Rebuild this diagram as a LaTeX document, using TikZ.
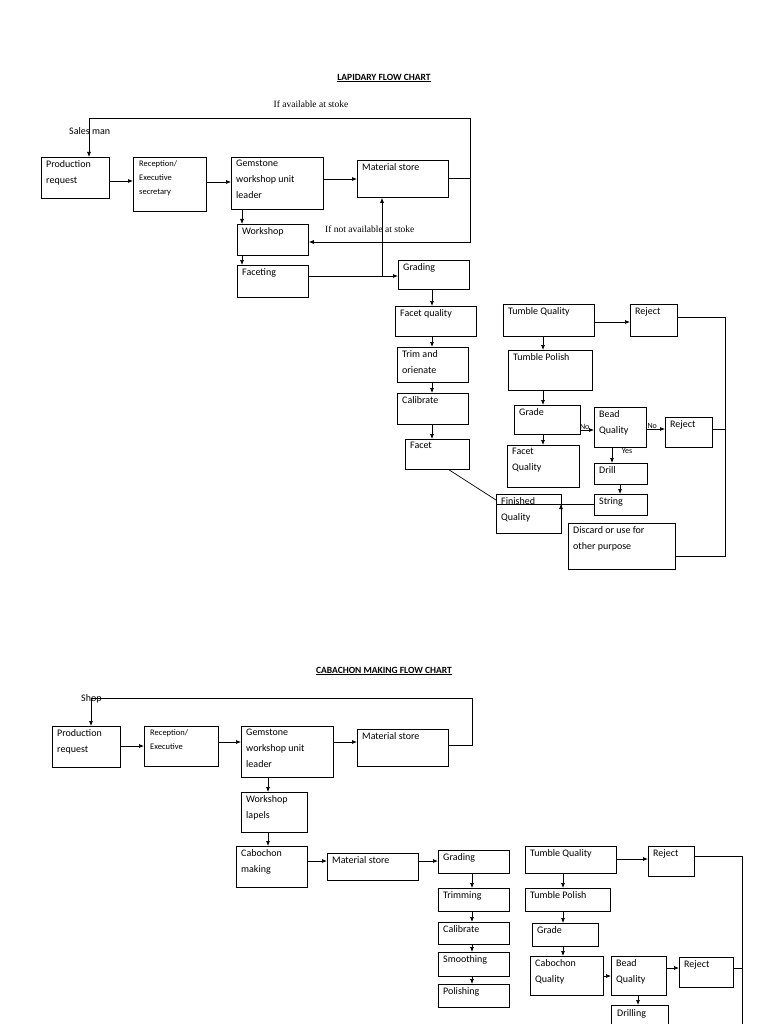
\documentclass[tikz,border=0pt]{standalone}
\usepackage{fontspec}
\setmainfont{Carlito}
\newfontfamily\serifa{Liberation Serif}
\usetikzlibrary{arrows.meta}
\newcommand{\bx}[6]{%
  \node[box,minimum width={(#4-#2)*1pt},minimum height={(#5-#3)*1pt},anchor=north west] (#1) at (#2,#3) {};
  \node[txt,anchor=north west] (#1t) at ([xshift=5pt,yshift=-3pt]#1.north west) {#6};}
\begin{document}
\begin{tikzpicture}[x=1pt,y=-1pt,
  box/.style={draw,line width=0.8pt,inner sep=0pt},
  txt/.style={inner sep=0pt,align=left,font=\fontsize{10}{16}\selectfont},
  stxt/.style={inner sep=0pt,align=left,font=\fontsize{8.5}{14}\selectfont},
  ann/.style={inner sep=0pt,font=\serifa\fontsize{9.5}{11}\selectfont},
  lab/.style={inner sep=0pt,font=\fontsize{8}{9}\selectfont},
  ln/.style={line width=0.7pt},
  ar/.style={line width=0.7pt,-{Latex[length=5pt,width=4pt]}}]
\useasboundingbox (0,0) rectangle (768,1024);
% ===== Lapidary =====
\node[font=\bfseries\fontsize{9.5}{11}\selectfont] (t1) at (384,78) {\underline{LAPIDARY FLOW CHART}};
\node[ann] (a1) at (311,104) {If available at stoke};
\node[txt,anchor=west] (sm) at (69,131) {Sales man};
\bx{pr}{41}{157}{109}{198}{Production\\request}
\node[box,minimum width=73pt,minimum height=54pt,anchor=north west] (rc) at (133,157) {};
\node[stxt,anchor=north west] (rct) at ([xshift=6pt,yshift=-3pt]rc.north west) {Reception/\\ Executive\\secretary};
\bx{gw}{231}{157}{323}{209}{Gemstone\\workshop unit\\leader}
\bx{ms}{357}{160}{448}{197}{Material store}
\bx{ws}{237}{224}{308}{255}{Workshop}
\bx{fa}{237}{265}{308}{297}{Faceting}
\node[ann,anchor=west] (a2) at (325,229) {If not available at stoke};
\coordinate (c1) at (470,178);
\coordinate (c2) at (470,118);
\coordinate (c3) at (89,118);
\coordinate (c4) at (470,242);
\draw[ln] (ms.east |- c1) -- (c1) -- (c2) -- (c3);
\draw[ar] (c3) -- (pr.north -| c3);
\draw[ar] (c1) -- (c4) -- (ws.east |- c4);
\draw[ar] (pr.east |- 0,181) -- (rc.west |- 0,181);
\draw[ar] (rc.east |- 0,182) -- (gw.west |- 0,182);
\draw[ar] (gw.east |- 0,179) -- (ms.west |- 0,179);
\draw[ar] (gw.south -| 242,0) -- (ws.north -| 242,0);
\draw[ar] (ws.south -| 242,0) -- (fa.north -| 242,0);
\bx{gr}{398}{260}{469}{289}{Grading}
\coordinate (c5) at (382,276);
\draw[ar] (fa.east |- c5) -- (gr.west |- c5);
\draw[ar] (c5) -- (ms.south -| c5);
\bx{fq}{395}{306}{476}{336}{Facet quality}
\bx{tr}{397}{347}{468}{382}{Trim and\\orienate}
\bx{ca}{397}{393}{468}{424}{Calibrate}
\bx{fc}{405}{439}{469}{469}{Facet}
\draw[ar] (gr.south -| 432,0) -- (fq.north -| 432,0);
\draw[ar] (fq.south -| 432,0) -- (tr.north -| 432,0);
\draw[ar] (tr.south -| 432,0) -- (ca.north -| 432,0);
\draw[ar] (ca.south -| 432,0) -- (fc.north -| 432,0);
\bx{tq}{503}{304}{594}{336}{Tumble Quality}
\bx{rj}{630}{304}{677}{336}{Reject}
\bx{tp}{508}{350}{592}{390}{Tumble Polish}
\bx{gd}{514}{405}{580}{434}{Grade}
\bx{fq2}{507}{445}{579}{487}{Facet\\Quality}
\bx{bq}{594}{407}{646}{447}{Bead\\Quality}
\bx{rj2}{665}{417}{712}{447}{Reject}
\bx{dr}{594}{463}{647}{484}{Drill}
\bx{st}{594}{494}{647}{515}{String}
\bx{fi}{496}{494}{561}{533}{Finished\\Quality}
\bx{di}{568}{523}{675}{569}{Discard or use for\\other purpose}
\draw[ar] (tq.east |- 0,322) -- (rj.west |- 0,322);
\draw[ar] (tq.south -| 543,0) -- (tp.north -| 543,0);
\draw[ar] (tp.south -| 543,0) -- (gd.north -| 543,0);
\draw[ar] (gd.south -| 543,0) -- (fq2.north -| 543,0);
\draw[ar] (gd.east |- 0,430) -- node[lab,above,pos=0.3] {No} (bq.west |- 0,430);
\draw[ar] (bq.east |- 0,429) -- node[lab,above,pos=0.3] {No} (rj2.west |- 0,429);
\draw[ar] (bq.south -| 612,0) -- (dr.north -| 612,0);
\node[lab] (ys) at (627,451) {Yes};
\draw[ar] (dr.south -| 620,0) -- (st.north -| 620,0);
\draw[ar] (st.west |- 0,504) -- (fi.west |- 0,504) ++(65,0);
\coordinate (c6) at (725,317);
\coordinate (c7) at (725,556);
\draw[ln] (rj.east |- c6) -- (c6) -- (c7) -- (di.east |- c7);
\draw[ln] (rj2.east |- 0,429) -- (725,429);
\draw[ln] (fc.south -| 449,0) -- (fi.west |- 0,500);
% ===== Cabachon =====
\node[font=\bfseries\fontsize{9.5}{11}\selectfont] (t2) at (384,671) {\underline{CABACHON MAKING FLOW CHART}};
\node[txt,anchor=west] (sh) at (81,699) {Shop};
\bx{pb}{52}{726}{120}{767}{Production\\request}
\node[box,minimum width=74pt,minimum height=40pt,anchor=north west] (rb) at (144,726) {};
\node[stxt,anchor=north west] (rbt) at ([xshift=6pt,yshift=-3pt]rb.north west) {Reception/\\ Executive};
\bx{gb}{241}{726}{333}{777}{Gemstone\\workshop unit\\leader}
\bx{mb}{357}{729}{448}{766}{Material store}
\coordinate (d1) at (472,745);
\coordinate (d2) at (472,698);
\coordinate (d3) at (91,698);
\draw[ln] (mb.east |- d1) -- (d1) -- (d2) -- (d3);
\draw[ar] (d3) -- (pb.north -| d3);
\draw[ar] (pb.east |- 0,746) -- (rb.west |- 0,746);
\draw[ar] (rb.east |- 0,742) -- (gb.west |- 0,742);
\draw[ar] (gb.east |- 0,742) -- (mb.west |- 0,742);
\bx{wl}{241}{792}{307}{832}{Workshop\\lapels}
\bx{cm}{236}{846}{307}{887}{Cabochon\\making}
\draw[ar] (gb.south -| 268,0) -- (wl.north -| 268,0);
\draw[ar] (wl.south -| 268,0) -- (cm.north -| 268,0);
\bx{m2}{327}{853}{418}{880}{Material store}
\bx{gb2}{438}{850}{509}{873}{Grading}
\draw[ar] (cm.east |- 0,861) -- (m2.west |- 0,861);
\draw[ar] (m2.east |- 0,861) -- (gb2.west |- 0,861);
\bx{tm}{438}{888}{509}{911}{Trimming}
\bx{cb}{438}{922}{509}{944}{Calibrate}
\bx{sm2}{438}{952}{509}{976}{Smoothing}
\bx{po}{438}{984}{509}{1007}{Polishing}
\draw[ar] (gb2.south -| 472,0) -- (tm.north -| 472,0);
\draw[ar] (tm.south -| 472,0) -- (cb.north -| 472,0);
\draw[ar] (cb.south -| 472,0) -- (sm2.north -| 472,0);
\draw[ar] (sm2.south -| 472,0) -- (po.north -| 472,0);
\bx{tb}{525}{846}{616}{873}{Tumble Quality}
\bx{rb1}{648}{846}{694}{876}{Reject}
\bx{tpb}{525}{888}{610}{911}{Tumble Polish}
\bx{gdb}{532}{923}{598}{946}{Grade}
\bx{cq}{530}{956}{603}{995}{Cabochon\\Quality}
\bx{bb}{611}{956}{666}{995}{Bead\\Quality}
\bx{rb2}{679}{957}{733}{987}{Reject}
\node[box,minimum width=57pt,minimum height=30pt,anchor=north west] (dl) at (611,1005) {};
\node[txt,anchor=north west] (dlt) at (617,1009) {Drilling};
\draw[ar] (tb.east |- 0,859) -- (rb1.west |- 0,859);
\draw[ar] (tb.south -| 563,0) -- (tpb.north -| 563,0);
\draw[ar] (tpb.south -| 563,0) -- (gdb.north -| 563,0);
\draw[ar] (gdb.south -| 563,0) -- (cq.north -| 563,0);
\draw[ar] (cq.east |- 0,976) -- (bb.west |- 0,976);
\draw[ar] (bb.east |- 0,968) -- (rb2.west |- 0,968);
\draw[ar] (bb.south -| 638,0) -- (dl.north -| 638,0);
\coordinate (d4) at (742,856);
\draw[ln] (rb1.east |- d4) -- (d4) -- (742,1024);
\draw[ln] (rb2.east |- 0,968) -- (742,968);
\end{tikzpicture}
\end{document}
